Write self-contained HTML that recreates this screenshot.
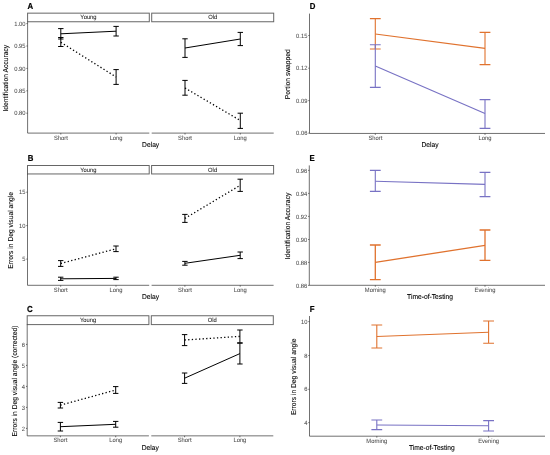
<!DOCTYPE html>
<html lang="en">
<head>
<meta charset="utf-8">
<title>Figure</title>
<style>
html,body{margin:0;padding:0;background:#fff;}
body{width:550px;height:455px;overflow:hidden;}
svg{display:block;font-family:"Liberation Sans",sans-serif;text-rendering:geometricPrecision;}
</style>
</head>
<body>
<svg width="550" height="455" viewBox="0 0 550 455">
<rect x="0" y="0" width="550" height="455" fill="#fff"/>
<g transform="translate(0.1 0)">
<text transform="translate(27.30 8.60) scale(0.9 1)" font-size="8.7" font-weight="bold" fill="#000" stroke="#000" stroke-width="0.2">A</text>
<rect x="27.50" y="13.15" width="121.70" height="8.60" fill="#fff" stroke="#666" stroke-width="1"/>
<text transform="translate(88.35 19.43) scale(0.935 1)" font-size="6.21" fill="#1a1a1a" text-anchor="middle" stroke="#1a1a1a" stroke-width="0.05">Young</text>
<line x1="27.50" y1="133.10" x2="149.20" y2="133.10" stroke="#333" stroke-width="0.7"/>
<rect x="151.60" y="13.15" width="122.00" height="8.60" fill="#fff" stroke="#666" stroke-width="1"/>
<text transform="translate(212.60 19.43) scale(0.935 1)" font-size="6.21" fill="#1a1a1a" text-anchor="middle" stroke="#1a1a1a" stroke-width="0.05">Old</text>
<line x1="151.60" y1="133.10" x2="273.60" y2="133.10" stroke="#333" stroke-width="0.7"/>
<line x1="27.50" y1="21.60" x2="27.50" y2="133.10" stroke="#333" stroke-width="0.7"/>
<line x1="26.30" y1="23.60" x2="27.50" y2="23.60" stroke="#333" stroke-width="0.7"/>
<text transform="translate(25.40 25.78) scale(0.935 1)" font-size="6.21" fill="#4d4d4d" text-anchor="end" stroke="#4d4d4d" stroke-width="0.05">1.00</text>
<line x1="26.30" y1="46.00" x2="27.50" y2="46.00" stroke="#333" stroke-width="0.7"/>
<text transform="translate(25.40 48.18) scale(0.935 1)" font-size="6.21" fill="#4d4d4d" text-anchor="end" stroke="#4d4d4d" stroke-width="0.05">0.95</text>
<line x1="26.30" y1="68.40" x2="27.50" y2="68.40" stroke="#333" stroke-width="0.7"/>
<text transform="translate(25.40 70.58) scale(0.935 1)" font-size="6.21" fill="#4d4d4d" text-anchor="end" stroke="#4d4d4d" stroke-width="0.05">0.90</text>
<line x1="26.30" y1="90.80" x2="27.50" y2="90.80" stroke="#333" stroke-width="0.7"/>
<text transform="translate(25.40 92.98) scale(0.935 1)" font-size="6.21" fill="#4d4d4d" text-anchor="end" stroke="#4d4d4d" stroke-width="0.05">0.85</text>
<line x1="26.30" y1="113.20" x2="27.50" y2="113.20" stroke="#333" stroke-width="0.7"/>
<text transform="translate(25.40 115.38) scale(0.935 1)" font-size="6.21" fill="#4d4d4d" text-anchor="end" stroke="#4d4d4d" stroke-width="0.05">0.80</text>
<line x1="60.70" y1="133.10" x2="60.70" y2="134.50" stroke="#333" stroke-width="0.7"/>
<text transform="translate(60.70 139.68) scale(0.935 1)" font-size="6.21" fill="#4d4d4d" text-anchor="middle" stroke="#4d4d4d" stroke-width="0.05">Short</text>
<line x1="116.00" y1="133.10" x2="116.00" y2="134.50" stroke="#333" stroke-width="0.7"/>
<text transform="translate(116.00 139.68) scale(0.935 1)" font-size="6.21" fill="#4d4d4d" text-anchor="middle" stroke="#4d4d4d" stroke-width="0.05">Long</text>
<line x1="184.90" y1="133.10" x2="184.90" y2="134.50" stroke="#333" stroke-width="0.7"/>
<text transform="translate(184.90 139.68) scale(0.935 1)" font-size="6.21" fill="#4d4d4d" text-anchor="middle" stroke="#4d4d4d" stroke-width="0.05">Short</text>
<line x1="240.20" y1="133.10" x2="240.20" y2="134.50" stroke="#333" stroke-width="0.7"/>
<text transform="translate(240.20 139.68) scale(0.935 1)" font-size="6.21" fill="#4d4d4d" text-anchor="middle" stroke="#4d4d4d" stroke-width="0.05">Long</text>
<text transform="translate(150.55 146.70) scale(0.935 1)" font-size="7.17" fill="#000" text-anchor="middle" stroke="#000" stroke-width="0.1">Delay</text>
<text transform="translate(8.20 78.25) rotate(-90) scale(0.935 1)" font-size="7.17" fill="#000" text-anchor="middle" stroke="#000" stroke-width="0.1">Identification Accuracy</text>
<line x1="60.70" y1="33.80" x2="116.00" y2="31.20" stroke="#000" stroke-width="1.0"/>
<line x1="184.90" y1="48.00" x2="240.20" y2="39.00" stroke="#000" stroke-width="1.0"/>
<path d="M58.00 28.60H63.40M58.00 39.00H63.40M60.70 28.60V39.00" stroke="#000" stroke-width="1.0" fill="none"/>
<path d="M113.30 26.40H118.70M113.30 36.00H118.70M116.00 26.40V36.00" stroke="#000" stroke-width="1.0" fill="none"/>
<path d="M182.20 38.80H187.60M182.20 57.40H187.60M184.90 38.80V57.40" stroke="#000" stroke-width="1.0" fill="none"/>
<path d="M237.50 32.40H242.90M237.50 45.60H242.90M240.20 32.40V45.60" stroke="#000" stroke-width="1.0" fill="none"/>
<line x1="60.70" y1="42.30" x2="116.00" y2="77.00" stroke="#000" stroke-width="1.3" stroke-dasharray="1.3 2.3"/>
<line x1="184.90" y1="88.00" x2="240.20" y2="120.50" stroke="#000" stroke-width="1.3" stroke-dasharray="1.3 2.3"/>
<path d="M58.00 37.50H63.40M58.00 46.50H63.40M60.70 37.50V46.50" stroke="#000" stroke-width="1.0" fill="none"/>
<path d="M113.30 69.60H118.70M113.30 84.40H118.70M116.00 69.60V84.40" stroke="#000" stroke-width="1.0" fill="none"/>
<path d="M182.20 80.40H187.60M182.20 95.20H187.60M184.90 80.40V95.20" stroke="#000" stroke-width="1.0" fill="none"/>
<path d="M237.50 113.20H242.90M237.50 128.40H242.90M240.20 113.20V128.40" stroke="#000" stroke-width="1.0" fill="none"/>
</g>
<g transform="translate(0.0 0)">
<text transform="translate(27.70 160.90) scale(0.9 1)" font-size="8.7" font-weight="bold" fill="#000" stroke="#000" stroke-width="0.2">B</text>
<rect x="27.50" y="165.50" width="121.70" height="8.45" fill="#fff" stroke="#666" stroke-width="1"/>
<text transform="translate(88.35 171.70) scale(0.935 1)" font-size="6.21" fill="#1a1a1a" text-anchor="middle" stroke="#1a1a1a" stroke-width="0.05">Young</text>
<line x1="27.50" y1="285.30" x2="149.20" y2="285.30" stroke="#333" stroke-width="0.7"/>
<rect x="151.60" y="165.50" width="122.00" height="8.45" fill="#fff" stroke="#666" stroke-width="1"/>
<text transform="translate(212.60 171.70) scale(0.935 1)" font-size="6.21" fill="#1a1a1a" text-anchor="middle" stroke="#1a1a1a" stroke-width="0.05">Old</text>
<line x1="151.60" y1="285.30" x2="273.60" y2="285.30" stroke="#333" stroke-width="0.7"/>
<line x1="27.50" y1="173.80" x2="27.50" y2="285.30" stroke="#333" stroke-width="0.7"/>
<line x1="26.30" y1="192.20" x2="27.50" y2="192.20" stroke="#333" stroke-width="0.7"/>
<text transform="translate(25.40 194.38) scale(0.935 1)" font-size="6.21" fill="#4d4d4d" text-anchor="end" stroke="#4d4d4d" stroke-width="0.05">15</text>
<line x1="26.30" y1="225.60" x2="27.50" y2="225.60" stroke="#333" stroke-width="0.7"/>
<text transform="translate(25.40 227.78) scale(0.935 1)" font-size="6.21" fill="#4d4d4d" text-anchor="end" stroke="#4d4d4d" stroke-width="0.05">10</text>
<line x1="26.30" y1="259.10" x2="27.50" y2="259.10" stroke="#333" stroke-width="0.7"/>
<text transform="translate(25.40 261.28) scale(0.935 1)" font-size="6.21" fill="#4d4d4d" text-anchor="end" stroke="#4d4d4d" stroke-width="0.05">5</text>
<line x1="60.70" y1="285.30" x2="60.70" y2="286.70" stroke="#333" stroke-width="0.7"/>
<text transform="translate(60.70 291.88) scale(0.935 1)" font-size="6.21" fill="#4d4d4d" text-anchor="middle" stroke="#4d4d4d" stroke-width="0.05">Short</text>
<line x1="116.00" y1="285.30" x2="116.00" y2="286.70" stroke="#333" stroke-width="0.7"/>
<text transform="translate(116.00 291.88) scale(0.935 1)" font-size="6.21" fill="#4d4d4d" text-anchor="middle" stroke="#4d4d4d" stroke-width="0.05">Long</text>
<line x1="184.90" y1="285.30" x2="184.90" y2="286.70" stroke="#333" stroke-width="0.7"/>
<text transform="translate(184.90 291.88) scale(0.935 1)" font-size="6.21" fill="#4d4d4d" text-anchor="middle" stroke="#4d4d4d" stroke-width="0.05">Short</text>
<line x1="240.20" y1="285.30" x2="240.20" y2="286.70" stroke="#333" stroke-width="0.7"/>
<text transform="translate(240.20 291.88) scale(0.935 1)" font-size="6.21" fill="#4d4d4d" text-anchor="middle" stroke="#4d4d4d" stroke-width="0.05">Long</text>
<text transform="translate(150.55 298.70) scale(0.935 1)" font-size="7.17" fill="#000" text-anchor="middle" stroke="#000" stroke-width="0.1">Delay</text>
<text transform="translate(13.20 230.45) rotate(-90) scale(0.935 1)" font-size="7.17" fill="#000" text-anchor="middle" stroke="#000" stroke-width="0.1">Errors in Deg visual angle</text>
<line x1="60.70" y1="278.80" x2="116.00" y2="278.40" stroke="#000" stroke-width="1.0"/>
<line x1="184.90" y1="263.30" x2="240.20" y2="255.30" stroke="#000" stroke-width="1.0"/>
<path d="M58.00 277.20H63.40M58.00 280.40H63.40M60.70 277.20V280.40" stroke="#000" stroke-width="1.0" fill="none"/>
<path d="M113.30 277.20H118.70M113.30 279.60H118.70M116.00 277.20V279.60" stroke="#000" stroke-width="1.0" fill="none"/>
<path d="M182.20 261.40H187.60M182.20 265.20H187.60M184.90 261.40V265.20" stroke="#000" stroke-width="1.0" fill="none"/>
<path d="M237.50 252.00H242.90M237.50 258.60H242.90M240.20 252.00V258.60" stroke="#000" stroke-width="1.0" fill="none"/>
<line x1="60.70" y1="263.50" x2="116.00" y2="248.80" stroke="#000" stroke-width="1.3" stroke-dasharray="1.3 2.3"/>
<line x1="184.90" y1="218.40" x2="240.20" y2="185.30" stroke="#000" stroke-width="1.3" stroke-dasharray="1.3 2.3"/>
<path d="M58.00 260.60H63.40M58.00 266.40H63.40M60.70 260.60V266.40" stroke="#000" stroke-width="1.0" fill="none"/>
<path d="M113.30 246.00H118.70M113.30 251.60H118.70M116.00 246.00V251.60" stroke="#000" stroke-width="1.0" fill="none"/>
<path d="M182.20 214.40H187.60M182.20 222.40H187.60M184.90 214.40V222.40" stroke="#000" stroke-width="1.0" fill="none"/>
<path d="M237.50 179.20H242.90M237.50 191.40H242.90M240.20 179.20V191.40" stroke="#000" stroke-width="1.0" fill="none"/>
</g>
<g transform="translate(-0.3 0)">
<text transform="translate(27.30 311.75) scale(0.9 1)" font-size="8.7" font-weight="bold" fill="#000" stroke="#000" stroke-width="0.2">C</text>
<rect x="27.50" y="315.75" width="121.70" height="8.85" fill="#fff" stroke="#666" stroke-width="1"/>
<text transform="translate(88.35 322.15) scale(0.935 1)" font-size="6.21" fill="#1a1a1a" text-anchor="middle" stroke="#1a1a1a" stroke-width="0.05">Young</text>
<line x1="27.50" y1="435.85" x2="149.20" y2="435.85" stroke="#333" stroke-width="0.7"/>
<rect x="151.60" y="315.75" width="122.00" height="8.85" fill="#fff" stroke="#666" stroke-width="1"/>
<text transform="translate(212.60 322.15) scale(0.935 1)" font-size="6.21" fill="#1a1a1a" text-anchor="middle" stroke="#1a1a1a" stroke-width="0.05">Old</text>
<line x1="151.60" y1="435.85" x2="273.60" y2="435.85" stroke="#333" stroke-width="0.7"/>
<line x1="27.50" y1="324.45" x2="27.50" y2="435.85" stroke="#333" stroke-width="0.7"/>
<line x1="26.30" y1="344.40" x2="27.50" y2="344.40" stroke="#333" stroke-width="0.7"/>
<text transform="translate(25.40 346.58) scale(0.935 1)" font-size="6.21" fill="#4d4d4d" text-anchor="end" stroke="#4d4d4d" stroke-width="0.05">6</text>
<line x1="26.30" y1="365.40" x2="27.50" y2="365.40" stroke="#333" stroke-width="0.7"/>
<text transform="translate(25.40 367.58) scale(0.935 1)" font-size="6.21" fill="#4d4d4d" text-anchor="end" stroke="#4d4d4d" stroke-width="0.05">5</text>
<line x1="26.30" y1="386.40" x2="27.50" y2="386.40" stroke="#333" stroke-width="0.7"/>
<text transform="translate(25.40 388.58) scale(0.935 1)" font-size="6.21" fill="#4d4d4d" text-anchor="end" stroke="#4d4d4d" stroke-width="0.05">4</text>
<line x1="26.30" y1="407.40" x2="27.50" y2="407.40" stroke="#333" stroke-width="0.7"/>
<text transform="translate(25.40 409.58) scale(0.935 1)" font-size="6.21" fill="#4d4d4d" text-anchor="end" stroke="#4d4d4d" stroke-width="0.05">3</text>
<line x1="26.30" y1="428.40" x2="27.50" y2="428.40" stroke="#333" stroke-width="0.7"/>
<text transform="translate(25.40 430.58) scale(0.935 1)" font-size="6.21" fill="#4d4d4d" text-anchor="end" stroke="#4d4d4d" stroke-width="0.05">2</text>
<line x1="60.70" y1="435.85" x2="60.70" y2="437.25" stroke="#333" stroke-width="0.7"/>
<text transform="translate(60.70 442.43) scale(0.935 1)" font-size="6.21" fill="#4d4d4d" text-anchor="middle" stroke="#4d4d4d" stroke-width="0.05">Short</text>
<line x1="116.00" y1="435.85" x2="116.00" y2="437.25" stroke="#333" stroke-width="0.7"/>
<text transform="translate(116.00 442.43) scale(0.935 1)" font-size="6.21" fill="#4d4d4d" text-anchor="middle" stroke="#4d4d4d" stroke-width="0.05">Long</text>
<line x1="184.90" y1="435.85" x2="184.90" y2="437.25" stroke="#333" stroke-width="0.7"/>
<text transform="translate(184.90 442.43) scale(0.935 1)" font-size="6.21" fill="#4d4d4d" text-anchor="middle" stroke="#4d4d4d" stroke-width="0.05">Short</text>
<line x1="240.20" y1="435.85" x2="240.20" y2="437.25" stroke="#333" stroke-width="0.7"/>
<text transform="translate(240.20 442.43) scale(0.935 1)" font-size="6.21" fill="#4d4d4d" text-anchor="middle" stroke="#4d4d4d" stroke-width="0.05">Long</text>
<text transform="translate(150.55 449.50) scale(0.935 1)" font-size="7.17" fill="#000" text-anchor="middle" stroke="#000" stroke-width="0.1">Delay</text>
<text transform="translate(16.80 381.05) rotate(-90) scale(0.935 1)" font-size="7.17" fill="#000" text-anchor="middle" stroke="#000" stroke-width="0.1">Errors in Deg visual angle (corrected)</text>
<line x1="60.70" y1="426.70" x2="116.00" y2="424.30" stroke="#000" stroke-width="1.0"/>
<line x1="184.90" y1="378.20" x2="240.20" y2="353.60" stroke="#000" stroke-width="1.0"/>
<path d="M58.00 422.40H63.40M58.00 431.00H63.40M60.70 422.40V431.00" stroke="#000" stroke-width="1.0" fill="none"/>
<path d="M113.30 421.40H118.70M113.30 427.20H118.70M116.00 421.40V427.20" stroke="#000" stroke-width="1.0" fill="none"/>
<path d="M182.20 373.00H187.60M182.20 383.40H187.60M184.90 373.00V383.40" stroke="#000" stroke-width="1.0" fill="none"/>
<path d="M237.50 343.20H242.90M237.50 364.00H242.90M240.20 343.20V364.00" stroke="#000" stroke-width="1.0" fill="none"/>
<line x1="60.70" y1="405.20" x2="116.00" y2="390.00" stroke="#000" stroke-width="1.3" stroke-dasharray="1.3 2.3"/>
<line x1="184.90" y1="340.00" x2="240.20" y2="336.40" stroke="#000" stroke-width="1.3" stroke-dasharray="1.3 2.3"/>
<path d="M58.00 402.40H63.40M58.00 408.00H63.40M60.70 402.40V408.00" stroke="#000" stroke-width="1.0" fill="none"/>
<path d="M113.30 386.60H118.70M113.30 393.40H118.70M116.00 386.60V393.40" stroke="#000" stroke-width="1.0" fill="none"/>
<path d="M182.20 334.60H187.60M182.20 345.60H187.60M184.90 334.60V345.60" stroke="#000" stroke-width="1.0" fill="none"/>
<path d="M237.50 330.00H242.90M237.50 342.80H242.90M240.20 330.00V342.80" stroke="#000" stroke-width="1.0" fill="none"/>
</g>
<text transform="translate(309.80 9.30) scale(0.9 1)" font-size="8.7" font-weight="bold" fill="#000" stroke="#000" stroke-width="0.2">D</text>
<line x1="309.50" y1="13.60" x2="309.50" y2="133.45" stroke="#333" stroke-width="0.7"/>
<line x1="309.50" y1="133.45" x2="545.00" y2="133.45" stroke="#333" stroke-width="0.7"/>
<line x1="308.30" y1="35.50" x2="309.50" y2="35.50" stroke="#333" stroke-width="0.7"/>
<text transform="translate(307.40 37.68) scale(0.935 1)" font-size="6.21" fill="#4d4d4d" text-anchor="end" stroke="#4d4d4d" stroke-width="0.05">0.15</text>
<line x1="308.30" y1="68.20" x2="309.50" y2="68.20" stroke="#333" stroke-width="0.7"/>
<text transform="translate(307.40 70.38) scale(0.935 1)" font-size="6.21" fill="#4d4d4d" text-anchor="end" stroke="#4d4d4d" stroke-width="0.05">0.12</text>
<line x1="308.30" y1="100.60" x2="309.50" y2="100.60" stroke="#333" stroke-width="0.7"/>
<text transform="translate(307.40 102.78) scale(0.935 1)" font-size="6.21" fill="#4d4d4d" text-anchor="end" stroke="#4d4d4d" stroke-width="0.05">0.09</text>
<line x1="308.30" y1="133.10" x2="309.50" y2="133.10" stroke="#333" stroke-width="0.7"/>
<text transform="translate(307.40 135.28) scale(0.935 1)" font-size="6.21" fill="#4d4d4d" text-anchor="end" stroke="#4d4d4d" stroke-width="0.05">0.06</text>
<line x1="375.30" y1="133.45" x2="375.30" y2="134.85" stroke="#333" stroke-width="0.7"/>
<text transform="translate(375.30 140.03) scale(0.935 1)" font-size="6.21" fill="#4d4d4d" text-anchor="middle" stroke="#4d4d4d" stroke-width="0.05">Short</text>
<line x1="485.00" y1="133.45" x2="485.00" y2="134.85" stroke="#333" stroke-width="0.7"/>
<text transform="translate(485.00 140.03) scale(0.935 1)" font-size="6.21" fill="#4d4d4d" text-anchor="middle" stroke="#4d4d4d" stroke-width="0.05">Long</text>
<text transform="translate(430.00 147.10) scale(0.935 1)" font-size="7.17" fill="#000" text-anchor="middle" stroke="#000" stroke-width="0.1">Delay</text>
<text transform="translate(290.40 74.22) rotate(-90) scale(0.935 1)" font-size="7.17" fill="#000" text-anchor="middle" stroke="#000" stroke-width="0.1">Portion swapped</text>
<line x1="375.30" y1="34.00" x2="485.00" y2="48.40" stroke="#E0722E" stroke-width="1.1"/>
<path d="M369.90 18.60H380.70M369.90 49.00H380.70M375.30 18.60V49.00" stroke="#E0722E" stroke-width="1.1" fill="none"/>
<path d="M479.60 32.40H490.40M479.60 64.60H490.40M485.00 32.40V64.60" stroke="#E0722E" stroke-width="1.1" fill="none"/>
<line x1="375.30" y1="66.00" x2="485.00" y2="113.60" stroke="#7872C4" stroke-width="1.1"/>
<path d="M369.90 44.80H380.70M369.90 87.40H380.70M375.30 44.80V87.40" stroke="#7872C4" stroke-width="1.1" fill="none"/>
<path d="M479.60 99.60H490.40M479.60 128.40H490.40M485.00 99.60V128.40" stroke="#7872C4" stroke-width="1.1" fill="none"/>
<text transform="translate(309.60 161.30) scale(0.9 1)" font-size="8.7" font-weight="bold" fill="#000" stroke="#000" stroke-width="0.2">E</text>
<line x1="309.30" y1="165.40" x2="309.30" y2="285.30" stroke="#333" stroke-width="0.7"/>
<line x1="309.30" y1="285.30" x2="545.00" y2="285.30" stroke="#333" stroke-width="0.7"/>
<line x1="308.10" y1="170.40" x2="309.30" y2="170.40" stroke="#333" stroke-width="0.7"/>
<text transform="translate(307.20 172.58) scale(0.935 1)" font-size="6.21" fill="#4d4d4d" text-anchor="end" stroke="#4d4d4d" stroke-width="0.05">0.96</text>
<line x1="308.10" y1="193.40" x2="309.30" y2="193.40" stroke="#333" stroke-width="0.7"/>
<text transform="translate(307.20 195.58) scale(0.935 1)" font-size="6.21" fill="#4d4d4d" text-anchor="end" stroke="#4d4d4d" stroke-width="0.05">0.94</text>
<line x1="308.10" y1="216.40" x2="309.30" y2="216.40" stroke="#333" stroke-width="0.7"/>
<text transform="translate(307.20 218.58) scale(0.935 1)" font-size="6.21" fill="#4d4d4d" text-anchor="end" stroke="#4d4d4d" stroke-width="0.05">0.92</text>
<line x1="308.10" y1="239.50" x2="309.30" y2="239.50" stroke="#333" stroke-width="0.7"/>
<text transform="translate(307.20 241.68) scale(0.935 1)" font-size="6.21" fill="#4d4d4d" text-anchor="end" stroke="#4d4d4d" stroke-width="0.05">0.90</text>
<line x1="308.10" y1="262.40" x2="309.30" y2="262.40" stroke="#333" stroke-width="0.7"/>
<text transform="translate(307.20 264.58) scale(0.935 1)" font-size="6.21" fill="#4d4d4d" text-anchor="end" stroke="#4d4d4d" stroke-width="0.05">0.88</text>
<line x1="308.10" y1="285.40" x2="309.30" y2="285.40" stroke="#333" stroke-width="0.7"/>
<text transform="translate(307.20 287.58) scale(0.935 1)" font-size="6.21" fill="#4d4d4d" text-anchor="end" stroke="#4d4d4d" stroke-width="0.05">0.86</text>
<line x1="375.30" y1="285.30" x2="375.30" y2="286.70" stroke="#333" stroke-width="0.7"/>
<text transform="translate(375.30 291.88) scale(0.935 1)" font-size="6.21" fill="#4d4d4d" text-anchor="middle" stroke="#4d4d4d" stroke-width="0.05">Morning</text>
<line x1="485.00" y1="285.30" x2="485.00" y2="286.70" stroke="#333" stroke-width="0.7"/>
<text transform="translate(485.00 291.88) scale(0.935 1)" font-size="6.21" fill="#4d4d4d" text-anchor="middle" stroke="#4d4d4d" stroke-width="0.05">Evening</text>
<text transform="translate(430.00 298.70) scale(0.935 1)" font-size="7.17" fill="#000" text-anchor="middle" stroke="#000" stroke-width="0.1">Time-of-Testing</text>
<text transform="translate(290.40 226.05) rotate(-90) scale(0.935 1)" font-size="7.17" fill="#000" text-anchor="middle" stroke="#000" stroke-width="0.1">Identification Accuracy</text>
<line x1="375.30" y1="262.40" x2="485.00" y2="245.30" stroke="#E0722E" stroke-width="1.3"/>
<path d="M369.90 245.00H380.70M369.90 279.60H380.70M375.30 245.00V279.60" stroke="#E0722E" stroke-width="1.3" fill="none"/>
<path d="M479.60 230.00H490.40M479.60 260.40H490.40M485.00 230.00V260.40" stroke="#E0722E" stroke-width="1.3" fill="none"/>
<line x1="375.30" y1="181.20" x2="485.00" y2="184.40" stroke="#7872C4" stroke-width="1.1"/>
<path d="M369.90 170.40H380.70M369.90 191.40H380.70M375.30 170.40V191.40" stroke="#7872C4" stroke-width="1.1" fill="none"/>
<path d="M479.60 172.40H490.40M479.60 196.60H490.40M485.00 172.40V196.60" stroke="#7872C4" stroke-width="1.1" fill="none"/>
<text transform="translate(309.80 311.90) scale(0.9 1)" font-size="8.7" font-weight="bold" fill="#000" stroke="#000" stroke-width="0.2">F</text>
<line x1="309.50" y1="316.00" x2="309.50" y2="436.20" stroke="#333" stroke-width="0.7"/>
<line x1="309.50" y1="436.20" x2="545.00" y2="436.20" stroke="#333" stroke-width="0.7"/>
<line x1="308.30" y1="321.60" x2="309.50" y2="321.60" stroke="#333" stroke-width="0.7"/>
<text transform="translate(307.40 323.78) scale(0.935 1)" font-size="6.21" fill="#4d4d4d" text-anchor="end" stroke="#4d4d4d" stroke-width="0.05">10</text>
<line x1="308.30" y1="355.50" x2="309.50" y2="355.50" stroke="#333" stroke-width="0.7"/>
<text transform="translate(307.40 357.68) scale(0.935 1)" font-size="6.21" fill="#4d4d4d" text-anchor="end" stroke="#4d4d4d" stroke-width="0.05">8</text>
<line x1="308.30" y1="389.30" x2="309.50" y2="389.30" stroke="#333" stroke-width="0.7"/>
<text transform="translate(307.40 391.48) scale(0.935 1)" font-size="6.21" fill="#4d4d4d" text-anchor="end" stroke="#4d4d4d" stroke-width="0.05">6</text>
<line x1="308.30" y1="422.60" x2="309.50" y2="422.60" stroke="#333" stroke-width="0.7"/>
<text transform="translate(307.40 424.78) scale(0.935 1)" font-size="6.21" fill="#4d4d4d" text-anchor="end" stroke="#4d4d4d" stroke-width="0.05">4</text>
<line x1="376.80" y1="436.20" x2="376.80" y2="437.60" stroke="#333" stroke-width="0.7"/>
<text transform="translate(376.80 442.78) scale(0.935 1)" font-size="6.21" fill="#4d4d4d" text-anchor="middle" stroke="#4d4d4d" stroke-width="0.05">Morning</text>
<line x1="488.60" y1="436.20" x2="488.60" y2="437.60" stroke="#333" stroke-width="0.7"/>
<text transform="translate(488.60 442.78) scale(0.935 1)" font-size="6.21" fill="#4d4d4d" text-anchor="middle" stroke="#4d4d4d" stroke-width="0.05">Evening</text>
<text transform="translate(431.80 450.10) scale(0.935 1)" font-size="7.17" fill="#000" text-anchor="middle" stroke="#000" stroke-width="0.1">Time-of-Testing</text>
<text transform="translate(296.20 376.80) rotate(-90) scale(0.935 1)" font-size="7.17" fill="#000" text-anchor="middle" stroke="#000" stroke-width="0.1">Errors in Deg visual angle</text>
<line x1="376.80" y1="336.50" x2="488.60" y2="332.30" stroke="#E0722E" stroke-width="1.1"/>
<path d="M371.40 325.00H382.20M371.40 348.00H382.20M376.80 325.00V348.00" stroke="#E0722E" stroke-width="1.1" fill="none"/>
<path d="M483.20 321.00H494.00M483.20 343.20H494.00M488.60 321.00V343.20" stroke="#E0722E" stroke-width="1.1" fill="none"/>
<line x1="376.80" y1="425.00" x2="488.60" y2="425.70" stroke="#7872C4" stroke-width="1.1"/>
<path d="M371.40 420.00H382.20M371.40 429.60H382.20M376.80 420.00V429.60" stroke="#7872C4" stroke-width="1.1" fill="none"/>
<path d="M483.20 420.60H494.00M483.20 431.00H494.00M488.60 420.60V431.00" stroke="#7872C4" stroke-width="1.1" fill="none"/>
</svg>
</body>
</html>
